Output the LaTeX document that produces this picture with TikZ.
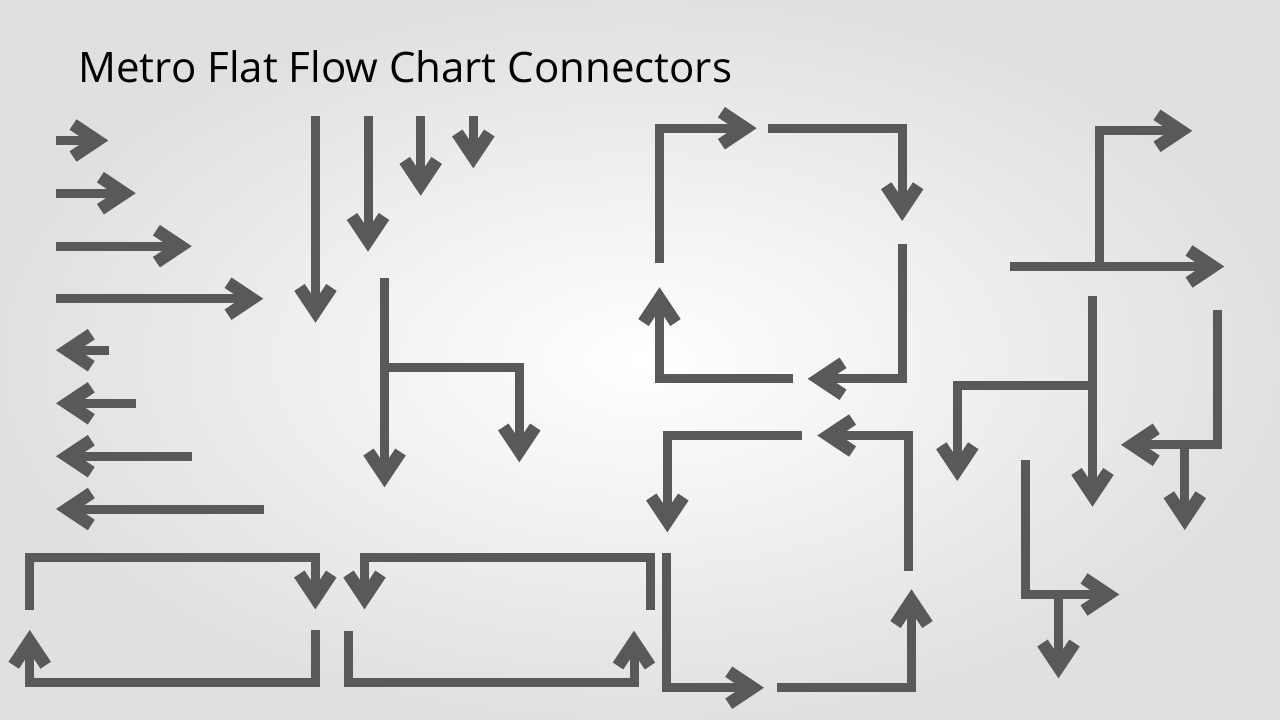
\documentclass[tikz,border=0pt]{standalone}
\usepackage{fontspec}
\setmainfont{Open Sans}
\usetikzlibrary{arrows.meta}
\definecolor{linegray}{RGB}{89,89,89}
\tikzset{
  conn/.style={draw=linegray, line width=9pt, -{Straight Barb[length=24pt, width=32pt, line width=12.5pt, sharp]}}
}

\begin{document}
\begin{tikzpicture}[x=1pt, y=-1pt]
    % Background
    \useasboundingbox (0,0) rectangle (1280,720);
    \shade[inner color=white, outer color=white!88!black] (0,0) rectangle (1280,720);

    % Title
    \node[anchor=base west, inner sep=0pt, font=\fontsize{42}{50}\selectfont] (title) at (78.3,82.7) {Metro Flat Flow Chart Connectors};

    % Right arrows (left column)
    \foreach \y/\tip in {140.5/108.3, 193.2/135.7, 246.2/191.7, 298.7/263.3}
        \draw[conn] (56,\y) -- (\tip,\y);

    % Left arrows (left column)
    \foreach \y/\tail in {350.2/109, 403.3/136, 456.2/192, 509/264}
        \draw[conn] (\tail,\y) -- (56,\y);

    % Down arrows
    \foreach \x/\tip in {315.5/322.7, 368/251.7, 420.7/195.7, 473.3/168.3}
        \draw[conn] (\x,116) -- (\x,\tip);

    % Split down (H)
    \draw[conn] (384.5,278) -- (384.5,487.3);
    \draw[conn] (384.5,367.5) -- (519.3,367.5) -- (519.3,462.3);

    % Clockwise loop
    \draw[conn] (659.5,262.7) -- (659.5,128.2) -- (756.7,128.2);
    \draw[conn] (768.3,128.2) -- (902.2,128.2) -- (902.2,221);
    \draw[conn] (902.2,244) -- (902.2,378.8) -- (807.7,378.8);
    \draw[conn] (793.3,378.8) -- (659.5,378.8) -- (659.5,287.3);

    % Split right (top right)
    \draw[conn] (1010,266.5) -- (1224.3,266.5);
    \draw[conn] (1099.7,266.5) -- (1099.7,130.8) -- (1192.3,130.8);

    % Split down and left
    \draw[conn] (1092.5,296) -- (1092.5,506.7);
    \draw[conn] (1092.5,385.8) -- (957.3,385.8) -- (957.3,481);

    % Left turn with drop
    \draw[conn] (1217.5,310) -- (1217.5,444.8) -- (1121,444.8);
    \draw[conn] (1184.8,444.8) -- (1184.8,530);

    % Anticlockwise loop
    \draw[conn] (801.7,435.5) -- (667.3,435.5) -- (667.3,532.3);
    \draw[conn] (666.5,553.3) -- (666.5,687.7) -- (764,687.7);
    \draw[conn] (776.7,687.7) -- (911.5,687.7) -- (911.5,589.3);
    \draw[conn] (908.5,571) -- (908.5,435.5) -- (817.3,435.5);

    % Right turn with drop
    \draw[conn] (1025.5,460) -- (1025.5,594.5) -- (1119.3,594.5);
    \draw[conn] (1058.5,594.5) -- (1058.5,678.3);

    % Bottom frames
    \draw[conn] (29.7,610) -- (29.7,557.2) -- (315.3,557.2) -- (315.3,609.3);
    \draw[conn] (315.3,630) -- (315.3,682.8) -- (29.7,682.8) -- (29.7,630);
    \draw[conn] (650.3,610) -- (650.3,557.5) -- (364.5,557.5) -- (364.5,609.3);
    \draw[conn] (348.7,630.7) -- (348.7,682.8) -- (634,682.8) -- (634,630.7);
\end{tikzpicture}
\end{document}
